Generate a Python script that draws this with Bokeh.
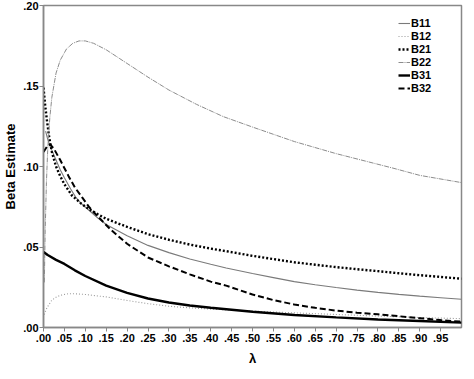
from bokeh.plotting import figure
from bokeh.models import FixedTicker, Legend, LegendItem
from bokeh.embed import file_html
from bokeh.resources import INLINE

# ---- data ----
b11_x = [0.005, 0.01, 0.015, 0.02, 0.03, 0.04, 0.05, 0.065, 0.077, 0.09, 0.108, 0.13, 0.15, 0.2, 0.25, 0.3, 0.35, 0.4, 0.437, 0.5, 0.55, 0.6, 0.65, 0.7, 0.75, 0.8, 0.85, 0.9, 0.95, 1.0]
b11_y = [0.122, 0.117, 0.113, 0.110, 0.104, 0.098, 0.093, 0.086, 0.081, 0.077, 0.073, 0.068, 0.064, 0.057, 0.051, 0.0465, 0.0425, 0.0393, 0.037, 0.0335, 0.031, 0.0285, 0.0266, 0.0248, 0.0232, 0.0218, 0.0206, 0.0195, 0.0185, 0.0175]

b12_x = [0.002, 0.006, 0.01, 0.02, 0.03, 0.04, 0.06, 0.08, 0.1, 0.15, 0.2, 0.25, 0.3, 0.35, 0.4, 0.5, 0.6, 0.7, 0.8, 0.9, 1.0]
b12_y = [0.008, 0.011, 0.013, 0.017, 0.0188, 0.020, 0.021, 0.0209, 0.0205, 0.019, 0.0168, 0.0148, 0.0132, 0.0122, 0.0114, 0.0102, 0.0091, 0.0081, 0.0071, 0.0062, 0.0055]

b21_x = [0.0, 0.004, 0.008, 0.014, 0.02, 0.03, 0.04, 0.05, 0.068, 0.09, 0.108, 0.13, 0.15, 0.2, 0.25, 0.3, 0.35, 0.4, 0.437, 0.5, 0.55, 0.6, 0.65, 0.7, 0.75, 0.8, 0.85, 0.9, 0.95, 1.0]
b21_y = [0.149, 0.138, 0.129, 0.1175, 0.109, 0.100, 0.094, 0.089, 0.082, 0.077, 0.0736, 0.0703, 0.0675, 0.0625, 0.058, 0.0545, 0.0515, 0.049, 0.0474, 0.0445, 0.0425, 0.0405, 0.039, 0.0375, 0.0362, 0.035, 0.0337, 0.0325, 0.0314, 0.0303]

b22_x = [0.002, 0.004, 0.007, 0.01, 0.015, 0.02, 0.03, 0.04, 0.055, 0.07, 0.085, 0.1, 0.12, 0.15, 0.2, 0.25, 0.3, 0.366, 0.43, 0.5, 0.6, 0.7, 0.836, 0.9, 1.0]
b22_y = [0.028, 0.06, 0.09, 0.11, 0.13, 0.143, 0.158, 0.166, 0.173, 0.1765, 0.178, 0.178, 0.1765, 0.1725, 0.164, 0.1555, 0.1475, 0.1386, 0.131, 0.1245, 0.1155, 0.108, 0.099, 0.0945, 0.090]

b31_x = [0.0, 0.01, 0.03, 0.05, 0.075, 0.1, 0.15, 0.2, 0.25, 0.3, 0.35, 0.4, 0.5, 0.6, 0.7, 0.8, 0.9, 1.0]
b31_y = [0.047, 0.045, 0.042, 0.0395, 0.0355, 0.032, 0.026, 0.0215, 0.018, 0.0155, 0.0137, 0.0123, 0.0098, 0.0078, 0.0063, 0.005, 0.004, 0.003]

b32_x = [0.0, 0.005, 0.01, 0.016, 0.025, 0.04, 0.06, 0.075, 0.092, 0.11, 0.131, 0.16, 0.2, 0.25, 0.3, 0.35, 0.4, 0.437, 0.5, 0.55, 0.6, 0.65, 0.7, 0.75, 0.8, 0.85, 0.9, 0.95, 1.0]
b32_y = [0.109, 0.111, 0.113, 0.1137, 0.111, 0.104, 0.094, 0.087, 0.081, 0.0745, 0.0687, 0.061, 0.052, 0.0435, 0.038, 0.033, 0.0285, 0.026, 0.0205, 0.017, 0.0143, 0.0122, 0.0105, 0.0092, 0.0082, 0.007, 0.0058, 0.0046, 0.0036]

x_ticks = [0.0, 0.05, 0.10, 0.15, 0.20, 0.25, 0.30, 0.35, 0.40, 0.45, 0.50, 0.55, 0.60, 0.65, 0.70, 0.75, 0.80, 0.85, 0.90, 0.95]
x_tick_labels = [".00", ".05", ".10", ".15", ".20", ".25", ".30", ".35", ".40", ".45", ".50", ".55", ".60", ".65", ".70", ".75", ".80", ".85", ".90", ".95"]
y_ticks = [0.0, 0.05, 0.10, 0.15, 0.20]
y_tick_labels = [".00", ".05", ".10", ".15", ".20"]

FONT = "Liberation Sans"

p = figure(width=464, height=368, output_backend="svg", toolbar_location=None,
           x_range=(0, 1.0), y_range=(0, 0.2),
           min_border_left=36, min_border_right=3, min_border_top=5, min_border_bottom=40)
p.background_fill_color = "white"
p.border_fill_color = "white"
p.outline_line_color = "#888888"
p.outline_line_width = 1.5
p.xgrid.visible = False
p.ygrid.visible = False

for ax in (p.xaxis[0], p.yaxis[0]):
    ax.axis_line_color = "#888888"
    ax.axis_line_width = 1.5
    ax.major_tick_line_color = "#888888"
    ax.major_tick_in = 0
    ax.major_tick_out = 4
    ax.minor_tick_line_color = None
    ax.major_label_text_font = FONT
    ax.major_label_text_font_style = "bold"
    ax.major_label_text_font_size = "11px"
    ax.major_label_text_color = "black"
    ax.axis_label_text_font = FONT
    ax.axis_label_text_font_style = "bold"
    ax.axis_label_text_color = "black"

p.xaxis.ticker = FixedTicker(ticks=x_ticks)
p.xaxis.major_label_overrides = {t: l for t, l in zip(x_ticks, x_tick_labels)}
p.yaxis.ticker = FixedTicker(ticks=y_ticks)
p.yaxis.major_label_overrides = {t: l for t, l in zip(y_ticks, y_tick_labels)}
p.xaxis.major_label_standoff = 2
p.yaxis.major_label_standoff = 1
p.xaxis.axis_label = "λ"
p.xaxis.axis_label_text_font_size = "13px"
p.xaxis.axis_label_standoff = 6
p.yaxis.axis_label = "Beta Estimate"
p.yaxis.axis_label_text_font_size = "13px"
p.yaxis.axis_label_standoff = 2

r11 = p.line(b11_x, b11_y, line_color="#7a7a7a", line_width=1.1)
r12 = p.line(b12_x, b12_y, line_color="#9a9a9a", line_width=1.1, line_dash="1 2")
r21 = p.line(b21_x, b21_y, line_color="black", line_width=2.4, line_dash="2 2")
r22 = p.line(b22_x, b22_y, line_color="#8c8c8c", line_width=1.0, line_dash="5 1 1 1")
r31 = p.line(b31_x, b31_y, line_color="black", line_width=2.4)
r32 = p.line(b32_x, b32_y, line_color="black", line_width=2.0, line_dash="6 3")

legend = Legend(items=[
    LegendItem(label="B11", renderers=[r11]),
    LegendItem(label="B12", renderers=[r12]),
    LegendItem(label="B21", renderers=[r21]),
    LegendItem(label="B22", renderers=[r22]),
    LegendItem(label="B31", renderers=[r31]),
    LegendItem(label="B32", renderers=[r32]),
], location=(355, 233))
legend.border_line_color = None
legend.background_fill_alpha = 0
legend.label_text_font = FONT
legend.label_text_font_style = "bold"
legend.label_text_font_size = "11px"
legend.label_text_color = "black"
legend.glyph_width = 12
legend.glyph_height = 12
legend.label_height = 12
legend.label_standoff = 1
legend.spacing = 1
legend.padding = 4
legend.margin = 0
legend.label_text_baseline = "middle"
p.add_layout(legend)

open("out.html", "w").write(file_html(p, INLINE))
